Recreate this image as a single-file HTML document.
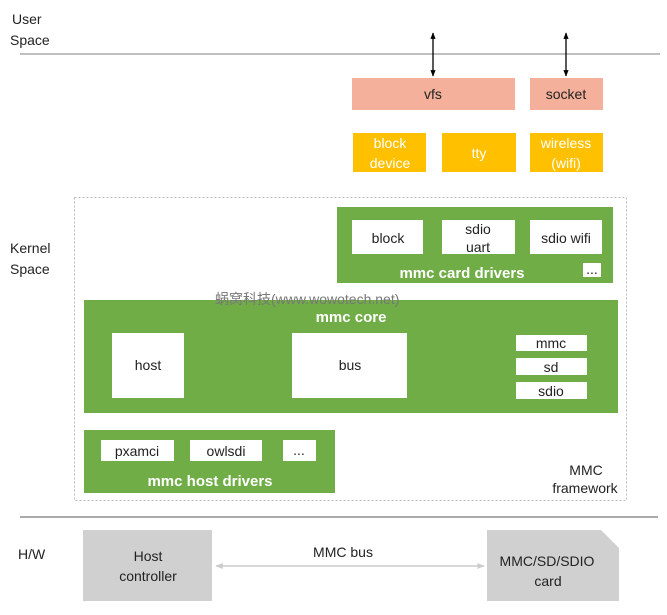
<!DOCTYPE html>
<html><head><meta charset="utf-8"><style>
html,body{margin:0;padding:0;background:#fff}
svg{display:block}
text{font-family:"Liberation Sans","Noto Sans CJK SC",sans-serif;font-size:14px;fill:#222}
.w{fill:#fff}
.b{font-weight:bold;fill:#fff;font-size:15px}
</style></head><body>
<svg width="667" height="615" viewBox="0 0 667 615" xmlns="http://www.w3.org/2000/svg">
<defs>
<marker id="a" viewBox="0 0 10 10" refX="9" refY="5" markerWidth="5" markerHeight="5" orient="auto-start-reverse"><path d="M0,1 L10,5 L0,9 z" fill="#000"/></marker>
<marker id="g" viewBox="0 0 10 10" refX="9" refY="5" markerWidth="5" markerHeight="5" orient="auto-start-reverse"><path d="M0,1 L10,5 L0,9 z" fill="#ccc"/></marker>
</defs>
<text x="12" y="24">User</text><text x="10" y="45">Space</text>
<line x1="20" y1="54" x2="660" y2="54" stroke="#aaa" stroke-width="1.5"/>
<line x1="433" y1="33" x2="433" y2="76" stroke="#000" stroke-width="1.3" marker-start="url(#a)" marker-end="url(#a)"/>
<line x1="566" y1="33" x2="566" y2="76" stroke="#000" stroke-width="1.3" marker-start="url(#a)" marker-end="url(#a)"/>
<rect x="352" y="78" width="163" height="32" fill="#f4b09a"/>
<text x="433" y="99" text-anchor="middle">vfs</text>
<rect x="530" y="78" width="73" height="32" fill="#f4b09a"/>
<text x="566" y="99" text-anchor="middle">socket</text>
<rect x="353" y="133" width="73" height="39" fill="#ffc000"/>
<text class="w" x="390" y="148" text-anchor="middle">block</text><text class="w" x="390" y="168" text-anchor="middle">device</text>
<rect x="442" y="133" width="74" height="39" fill="#ffc000"/>
<text class="w" x="479" y="158" text-anchor="middle">tty</text>
<rect x="530" y="133" width="73" height="39" fill="#ffc000"/>
<text class="w" x="566" y="148" text-anchor="middle">wireless</text><text class="w" x="566" y="168" text-anchor="middle">(wifi)</text>
<text x="10" y="253">Kernel</text><text x="10" y="274">Space</text>
<rect x="74.5" y="197.5" width="552" height="303" fill="none" stroke="#bbb" stroke-dasharray="2,2"/>
<rect x="337" y="207" width="276" height="76" fill="#70ad47"/>
<rect x="352" y="220" width="71" height="34" fill="#fff"/><text x="388" y="243" text-anchor="middle">block</text>
<rect x="442" y="220" width="73" height="34" fill="#fff"/><text x="478" y="234" text-anchor="middle">sdio</text><text x="478" y="252" text-anchor="middle">uart</text>
<rect x="530" y="220" width="72" height="34" fill="#fff"/><text x="566" y="243" text-anchor="middle">sdio wifi</text>
<rect x="583" y="263" width="18" height="14" fill="#fff"/><text x="592" y="274" text-anchor="middle" font-size="10">...</text>
<text class="b" x="462" y="278" text-anchor="middle">mmc card drivers</text>
<rect x="84" y="300" width="534" height="113" fill="#70ad47"/>
<text class="b" x="351" y="322" text-anchor="middle">mmc core</text>
<rect x="112" y="333" width="72" height="65" fill="#fff"/><text x="148" y="370" text-anchor="middle">host</text>
<rect x="292" y="333" width="115" height="65" fill="#fff"/><text x="350" y="370" text-anchor="middle">bus</text>
<rect x="516" y="335" width="71" height="16" fill="#fff"/><text x="551" y="348" text-anchor="middle">mmc</text>
<rect x="516" y="358" width="71" height="17" fill="#fff"/><text x="551" y="372" text-anchor="middle">sd</text>
<rect x="516" y="382" width="71" height="17" fill="#fff"/><text x="551" y="396" text-anchor="middle">sdio</text>
<text x="215" y="304" style="fill:#777">蜗窝科技(www.wowotech.net)</text>
<rect x="84" y="430" width="251" height="63" fill="#70ad47"/>
<rect x="101" y="440" width="73" height="21" fill="#fff"/><text x="137" y="456" text-anchor="middle">pxamci</text>
<rect x="190" y="440" width="72" height="21" fill="#fff"/><text x="226" y="456" text-anchor="middle">owlsdi</text>
<rect x="283" y="440" width="33" height="21" fill="#fff"/><text x="299" y="455" text-anchor="middle" font-size="11">...</text>
<text class="b" x="210" y="486" text-anchor="middle">mmc host drivers</text>
<text x="586" y="475" text-anchor="middle">MMC</text><text x="585" y="493" text-anchor="middle">framework</text>
<line x1="20" y1="517" x2="658" y2="517" stroke="#777" stroke-width="1.2"/>
<text x="18" y="559">H/W</text>
<rect x="83" y="530" width="129" height="71" fill="#d0d0d0"/>
<text x="148" y="561" text-anchor="middle">Host</text><text x="148" y="581" text-anchor="middle">controller</text>
<path d="M487,530 L601,530 L619,548 L619,601 L487,601 z" fill="#d0d0d0"/>
<text x="547" y="566" text-anchor="middle">MMC/SD/SDIO</text><text x="548" y="586" text-anchor="middle">card</text>
<line x1="216" y1="566" x2="484" y2="566" stroke="#ccc" stroke-width="1.5" marker-start="url(#g)" marker-end="url(#g)"/>
<text x="343" y="557" text-anchor="middle">MMC bus</text>
</svg>
</body></html>
